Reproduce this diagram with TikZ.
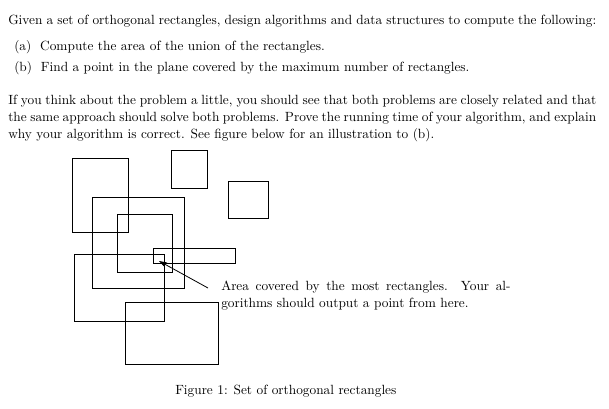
\documentclass[tikz,border=0pt]{standalone}
\usetikzlibrary{arrows.meta}
\begin{document}
\begin{tikzpicture}[x=0.75pt,y=-0.75pt,
  rect/.style={draw,line width=0.5pt},
  txt/.style={anchor=base west,inner sep=0pt,font=\normalsize}]
\useasboundingbox (0,0) rectangle (609,408);
\node[txt] (l1) at (8,24) {\makebox[441pt][s]{Given a set of orthogonal rectangles, design algorithms and data structures to compute the following:}};
\node[txt] (la) at (14,50) {(a)\ \ Compute the area of the union of the rectangles.};
\node[txt] (lb) at (14,71) {(b)\ \ Find a point in the plane covered by the maximum number of rectangles.};
\node[txt] (p1) at (8,104) {\makebox[441pt][s]{If you think about the problem a little, you should see that both problems are closely related and that}};
\node[txt] (p2) at (8,121) {\makebox[441pt][s]{the same approach should solve both problems. Prove the running time of your algorithm, and explain}};
\node[txt] (p3) at (8,138) {why your algorithm is correct. See figure below for an illustration to (b).};
\draw[rect] (72,158) rectangle (128,232);
\draw[rect] (171,150) rectangle (207,188);
\draw[rect] (228,181) rectangle (268,218);
\draw[rect] (92,197) rectangle (184,288);
\draw[rect] (117,214) rectangle (172,272);
\draw[rect] (153,248) rectangle (235,263);
\draw[rect] (74,254) rectangle (164,321);
\draw[rect] (125,302) rectangle (218,364);
\coordinate (tip) at (159,261);
\coordinate (tail) at (208,288);
\draw[-{Stealth[length=6pt,width=4pt]},line width=0.6pt] (tail) -- (tip);
\node[txt] (c1) at (221,290) {\makebox[217pt][s]{Area covered by the most rectangles.\ \ Your al-}};
\node[txt] (c2) at (221,307) {gorithms should output a point from here.};
\node[txt] (cap) at (175,394) {Figure 1: Set of orthogonal rectangles};
\end{tikzpicture}
\end{document}
